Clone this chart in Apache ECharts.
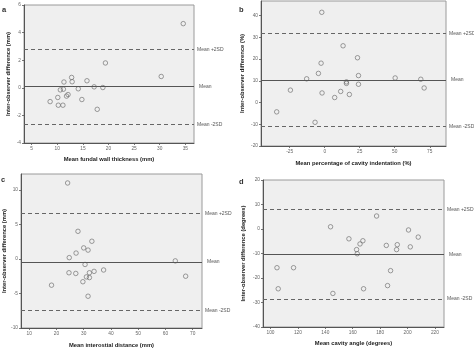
<!DOCTYPE html>
<html>
<head>
<meta charset="utf-8">
<script src="https://cdn.jsdelivr.net/npm/echarts@6/dist/echarts.min.js"></script>
<style>
  html, body { margin: 0; padding: 0; background: #ffffff; }
  #chart { width: 474px; height: 349px; }
</style>
</head>
<body>
<div id="chart"></div>
<script>
// Bland-Altman plots: inter-observer difference against the mean of two observers.

// a - fundal wall thickness (mm)
const aMean = [34.6, 30.3, 19.4, 15.8, 12.8, 12.9, 11.3, 11.2, 10.6, 14.1, 17.2, 18.9, 12.1, 11.8, 10.1, 8.6, 10.2, 11.1, 14.8, 17.8];
const aDiff = [4.65, 0.82, 1.8, 0.51, 0.75, 0.44, 0.42, -0.1, -0.15, -0.07, 0.07, 0.02, -0.49, -0.6, -0.7, -1.0, -1.26, -1.26, -0.85, -1.56];
const aLimits = [0.08, 2.8, -2.64];          // mean, mean + 2SD, mean - 2SD
const aXTicks = [5, 10, 15, 20, 25, 30, 35];
const aYTicks = [-4, -2, 0, 2, 4, 6];

// b - percentage of cavity indentation (%)
const bMean = [-2.1, 13.1, 23.4, -2.6, -4.5, 24.1, -12.9, 50.3, 68.6, 15.5, 15.5, 24.1, 71.0, -24.5, 11.4, -1.9, 17.6, 7.1, -34.3, -6.9];
const bDiff = [41.5, 26.1, 20.6, 18.1, 13.4, 12.4, 10.9, 11.3, 10.7, 9.5, 8.8, 8.4, 6.7, 5.7, 5.1, 4.4, 3.7, 2.3, -4.3, -9.1];
const bLimits = [10.4, 31.9, -11.1];
const bXTicks = [-25, 0, 25, 50, 75];
const bYTicks = [-20, -10, 0, 10, 20, 30, 40];

// c - interostial distance (mm)
const cMean = [24.1, 27.9, 33.0, 30.0, 31.6, 27.2, 24.7, 30.5, 63.6, 37.3, 33.8, 24.6, 27.1, 32.1, 31.0, 32.1, 67.4, 29.7, 18.2, 31.6];
const cDiff = [11.0, 4.0, 2.56, 1.6, 1.28, 0.85, 0.19, -0.8, -0.28, -1.6, -1.8, -2.0, -2.1, -2.0, -2.6, -2.7, -2.5, -3.3, -3.8, -5.4];
const cLimits = [-0.45, 6.6, -7.5];
const cXTicks = [10, 20, 30, 40, 50, 60, 70];
const cYTicks = [-10, -5, 0, 5, 10];

// d - cavity angle (degrees)
const dMean = [177.4, 143.8, 200.7, 207.8, 157.2, 167.4, 165.3, 184.5, 192.5, 202.0, 162.8, 192.0, 163.3, 104.7, 116.8, 187.6, 185.4, 105.6, 167.9, 145.5];
const dDiff = [5.3, 0.9, -0.4, -3.3, -4.0, -4.8, -6.1, -6.7, -6.4, -7.3, -8.4, -8.4, -10.1, -15.8, -15.8, -17.0, -23.1, -24.4, -24.4, -26.3];
const dLimits = [-10.3, 8.0, -28.6];
const dXTicks = [100, 120, 140, 160, 180, 200, 220];
const dYTicks = [-40, -30, -20, -10, 0, 10, 20];

const limitNames = ['Mean', 'Mean +2SD', 'Mean -2SD'];
const yTitles = ['Inter-observer difference (mm)', 'Inter-observer difference (%)', 'Inter-observer difference (mm)', 'Inter-observer difference (degrees)'];
const xTitles = ['Mean fundal wall thickness (mm)', 'Mean percentage of cavity indentation (%)', 'Mean interostial distance (mm)', 'Mean cavity angle (degrees)'];
const letters = ['a', 'b', 'c', 'd'];

const FONT = '"Liberation Sans", Arial, sans-serif';

const panels = [
  { x: aMean, y: aDiff, lim: aLimits, xt: aXTicks, yt: aYTicks, xr: [3.5, 36.7], yr: [-4, 6],
    box: { left: 24, top: 5, width: 170, height: 138 }, xGap: 13, yGap: 13, letter: [2, 6] },
  { x: bMean, y: bDiff, lim: bLimits, xt: bXTicks, yt: bYTicks, xr: [-45.5, 86.6], yr: [-20, 46.7],
    box: { left: 261, top: 1, width: 185, height: 145 }, xGap: 14, yGap: 16, letter: [239, 6] },
  { x: cMean, y: cDiff, lim: cLimits, xt: cXTicks, yt: cYTicks, xr: [7, 73.4], yr: [-10, 12.3],
    box: { left: 18, top: 174, width: 184, height: 157 }, xGap: 14, yGap: 14, letter: [1, 176] },
  { x: dMean, y: dDiff, lim: dLimits, xt: dXTicks, yt: dYTicks, xr: [94.5, 226.6], yr: [-40, 20],
    box: { left: 263, top: 180, width: 181, height: 147 }, xGap: 13, yGap: 17, letter: [239, 178] }
];

const option = {
  animation: false,
  textStyle: { fontFamily: FONT },
  title: [],
  grid: [],
  xAxis: [],
  yAxis: [],
  series: []
};

panels.forEach((p, i) => {
  option.title.push({
    text: letters[i], left: p.letter[0], top: p.letter[1], padding: 0,
    textStyle: { fontSize: 7.5, fontWeight: 'bold', color: '#333', fontFamily: FONT }
  });
  option.grid.push(Object.assign({
    show: true, backgroundColor: '#efefef', borderColor: '#9a9a9a', borderWidth: 1
  }, p.box));

  const axisBase = (ticks) => ({
    type: 'value',
    gridIndex: i,
    nameLocation: 'middle',
    nameTextStyle: { fontSize: 5.8, fontWeight: 'bold', color: '#222', fontFamily: FONT },
    axisLine: { show: true, onZero: false, lineStyle: { color: '#555', width: 1 } },
    axisTick: { show: true, length: 2, customValues: ticks, lineStyle: { color: '#555', width: 0.8 } },
    axisLabel: { customValues: ticks, fontSize: 4.8, color: '#666', margin: 3, fontFamily: FONT },
    splitLine: { show: false }
  });

  option.xAxis.push(Object.assign(axisBase(p.xt), {
    min: p.xr[0], max: p.xr[1], name: xTitles[i], nameGap: p.xGap
  }));
  option.yAxis.push(Object.assign(axisBase(p.yt), {
    min: p.yr[0], max: p.yr[1], name: yTitles[i], nameGap: p.yGap, nameRotate: 90
  }));

  option.series.push({
    type: 'scatter',
    xAxisIndex: i,
    yAxisIndex: i,
    symbol: 'circle',
    symbolSize: 4.5,
    itemStyle: { color: 'rgba(0,0,0,0)', borderColor: '#666', borderWidth: 0.8 },
    data: p.x.map((v, k) => [v, p.y[k]]),
    markLine: {
      silent: true,
      symbol: 'none',
      label: { position: 'end', fontSize: 5, color: '#555', fontFamily: FONT, distance: 3 },
      data: p.lim.map((v, k) => ({
        yAxis: v,
        lineStyle: k === 0
          ? { type: 'solid', color: '#555', width: 1.2 }
          : { type: [4, 3], color: '#666', width: 1 },
        label: { formatter: limitNames[k], distance: k === 0 ? 5 : 3 }
      }))
    }
  });
});

const chart = echarts.init(document.getElementById('chart'), null, { renderer: 'canvas' });
chart.setOption(option);
</script>
</body>
</html>
